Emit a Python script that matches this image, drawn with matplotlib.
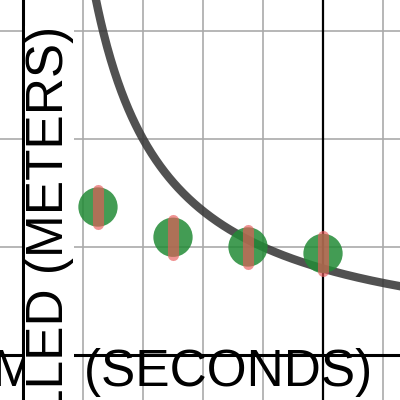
import numpy as np
import matplotlib
matplotlib.use("Agg")
import matplotlib.pyplot as plt

plt.rcParams['font.family'] = ['Liberation Sans', 'DejaVu Sans']

# data
times = [1.25, 2.5, 3.75, 5.0]
distances = [1.37, 1.09, 1.0, 0.94]
errors = [0.16, 0.16, 0.16, 0.16]
model_k = 4.0

fig = plt.figure(figsize=(4, 4), dpi=100)
ax = fig.add_axes([0, 0, 1, 1])
ax.set_xlim(-0.383, 6.283)
ax.set_ylim(-0.417, 3.287)
ax.axis('off')

# grid
for gx in range(0, 7):
    ax.axvline(gx, color='#aaaaaa', lw=1.2, zorder=0)
for gy in range(0, 4):
    ax.axhline(gy, color='#aaaaaa', lw=1.2, zorder=0)
ax.axvline(0, color='black', lw=2.2, zorder=1)
ax.axhline(0, color='black', lw=2.2, zorder=1)
ax.axvline(5, color='black', lw=1.6, zorder=1)

# model curve
xs = np.linspace(0.5, 6.4, 400)
ax.plot(xs, model_k / xs, color='#333333', lw=6, alpha=0.85, zorder=3, solid_capstyle='round')

# points and error bars
ax.scatter(times, distances, s=800, color='#228b36', alpha=0.85, zorder=4, edgecolors='none')
for t, d, e in zip(times, distances, errors):
    ax.plot([t, t], [d - e, d + e], color='#e85a5a', lw=8, alpha=0.65,
            solid_capstyle='round', zorder=5)

# axis labels
ax.text(372 / 60 - 0.383, -0.417 + 3 / 108, 'TIME (SECONDS)', fontsize=37,
        ha='right', va='bottom', zorder=6)
ax.text(74 / 60 - 0.383, 3.287 - 26 / 108, 'DISTANCE TRAVELLED (METERS)', fontsize=37,
        rotation=90, ha='right', va='top', zorder=7,
        bbox=dict(facecolor='white', edgecolor='none', pad=0))

fig.savefig('out.png', dpi=100)
